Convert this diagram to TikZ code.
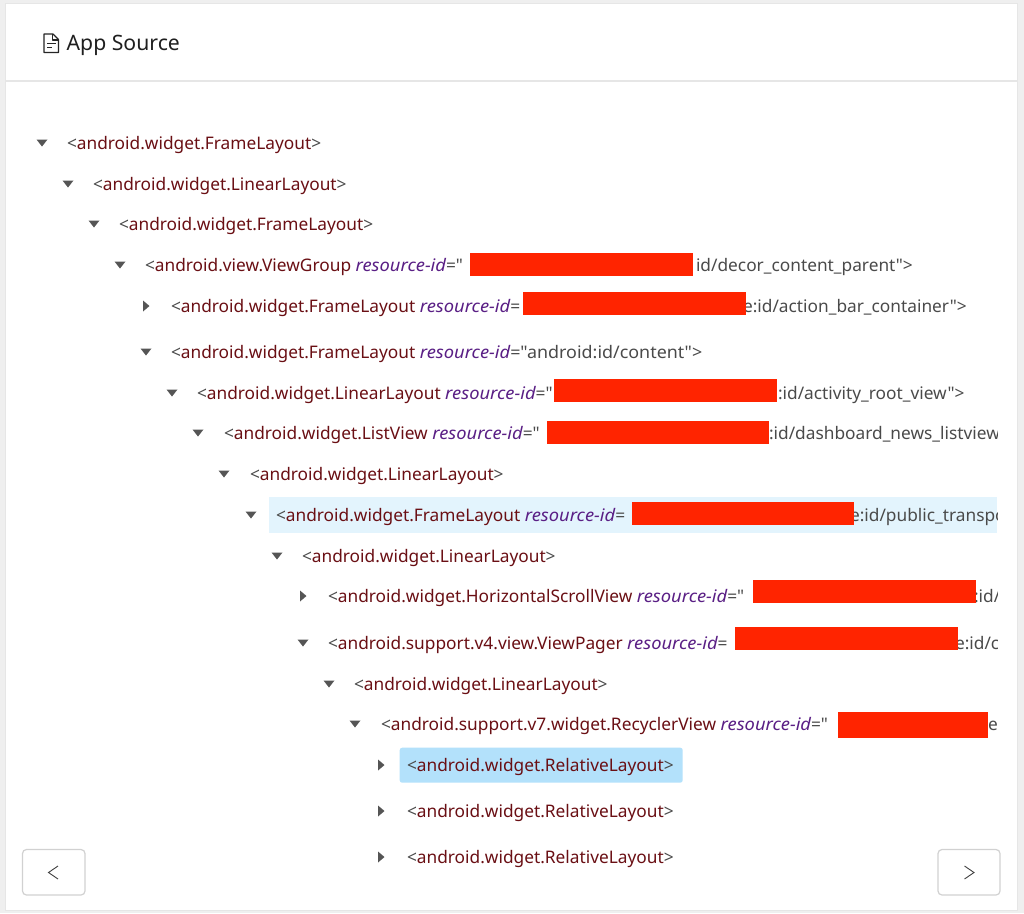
\documentclass[tikz,border=0pt]{standalone}
\usepackage{fontspec}
\setmainfont{Noto Sans}[Ligatures=TeXOff]
\newfontfamily\attrfont{Noto Sans}[Ligatures=TeXOff,FakeStretch=1.06]
\newfontfamily\valuefont{Noto Sans}[Ligatures=TeXOff,FakeStretch=1.035]
\definecolor{tagc}{HTML}{6A0F14}
\definecolor{attrc}{HTML}{5A1F85}
\definecolor{punc}{HTML}{4A4A4A}
\definecolor{pagebg}{HTML}{EFEFEF}
\definecolor{rulec}{HTML}{E6E6E6}
\definecolor{redact}{HTML}{FF2400}
\definecolor{hilite}{HTML}{E3F4FD}
\definecolor{selc}{HTML}{B3E1FB}
\definecolor{triac}{HTML}{555555}
\newcommand{\tagT}[1]{\textcolor{punc}{<}\textcolor{tagc}{#1}}
\newcommand{\attrA}{\textcolor{attrc}{\attrfont\itshape resource-id}}
\newcommand{\puncP}[1]{\textcolor{punc}{#1}}
\tikzset{
  x=1pt,y=-1pt,
  codeline/.style={anchor=base west,inner sep=0pt,outer sep=0pt,font=\fontsize{17.3}{20}\selectfont,text=punc},
  redbox/.style={fill=redact,draw=none},
  navbtn/.style={draw=black!18,line width=1.2pt,fill=white,rounded corners=4pt},
  chev/.style={draw=black!75,line width=0.9pt},
  tridown/.style={fill=triac,draw=none},
}
\newcommand{\trdown}[2]{\fill[tridown] (#1-5.5,#2-3.5) -- (#1+5.5,#2-3.5) -- (#1,#2+3.5) -- cycle;}
\newcommand{\trright}[2]{\fill[tridown] (#1-3,#2-5.5) -- (#1+3.5,#2) -- (#1-3,#2+5.5) -- cycle;}
\begin{document}
\begin{tikzpicture}
\useasboundingbox (0,0) rectangle (1024,913);
\fill[pagebg] (0,0) rectangle (1024,913);
\fill[white,draw=rulec,line width=0.8pt] (5.5,3) rectangle (1017,910);
\draw[rulec,line width=1.6pt] (6,81) -- (1017,81);
% header
\draw[black!85,line width=1.2pt,line join=round] (44,34) -- (53,34) -- (58.5,39.5) -- (58.5,52.5) -- (44,52.5) -- cycle;
\draw[black!85,line width=1.2pt,line join=round] (52.5,34) -- (52.5,40) -- (58.5,40);
\draw[black!85,line width=1.1pt] (47,43.5) -- (55.5,43.5) (47,47.5) -- (52,47.5);
\node[anchor=base west,inner sep=0pt,font=\fontsize{21.2}{24}\selectfont,text=black!88] (title) at (66.5,50) {App Source};
% highlights
\fill[hilite] (269,497) rectangle (997,533);
\node[fill=selc,rounded corners=2.5pt,minimum width=283pt,minimum height=35pt,inner sep=0pt,anchor=north west] (sel) at (399.5,747.5) {};
% triangles
\trdown{42}{143}\trdown{68}{184}\trdown{94}{224}\trdown{120}{265}
\trright{146}{306}\trdown{146}{352}\trdown{172}{393}\trdown{198}{433}
\trdown{224}{474}\trdown{251}{515}\trdown{277}{556}\trright{303}{596}
\trdown{303}{643}\trdown{329}{684}\trdown{355}{724}\trright{381}{765}\trright{381}{811}\trright{381}{857}
% code lines, clipped at the panel's right edge
\begin{scope}
\clip (0,90) rectangle (997,905);
\node[codeline] (l1) at (67,149) {\tagT{android.widget.FrameLayout}\puncP{>}};
\node[codeline] (l2) at (93,190) {\tagT{android.widget.LinearLayout}\puncP{>}};
\node[codeline] (l3) at (119,230) {\tagT{android.widget.FrameLayout}\puncP{>}};
\node[codeline] (l4) at (145,271) {\tagT{android.view.ViewGroup} \attrA\puncP{="}};
\node[codeline] (l4b) at (696,271) {id/decor\_content\_parent">};
\node[codeline] (l5) at (171,312) {\tagT{android.widget.FrameLayout} \attrA\puncP{=}};
\node[codeline] (l5b) at (743,312) {e:id/action\_bar\_container">};
\node[codeline] (l6) at (171,358) {\tagT{android.widget.FrameLayout} \attrA{\valuefont\puncP{="android:id/content">}}};
\node[codeline] (l7) at (197,399) {\tagT{android.widget.LinearLayout} \attrA\puncP{="}};
\node[codeline] (l7b) at (778,399) {:id/activity\_root\_view">};
\node[codeline] (l8) at (224,439) {\tagT{android.widget.ListView} \attrA\puncP{="}};
\node[codeline] (l8b) at (769,439) {:id/dashboard\_news\_listview};
\node[codeline] (l9) at (250,480) {\tagT{android.widget.LinearLayout}\puncP{>}};
\node[codeline] (l10) at (276,521) {\tagT{android.widget.FrameLayout} \attrA\puncP{=}};
\node[codeline] (l10b) at (850,521) {e:id/public\_transport};
\node[codeline] (l11) at (302,562) {\tagT{android.widget.LinearLayout}\puncP{>}};
\node[codeline] (l12) at (328,602) {\tagT{android.widget.HorizontalScrollView} \attrA\puncP{="}};
\node[codeline] (l12b) at (974,602) {:id/};
\node[codeline] (l13) at (328,649) {\tagT{android.support.v4.view.ViewPager} \attrA\puncP{=}};
\node[codeline] (l13b) at (955,649) {e:id/c};
\node[codeline] (l14) at (354,690) {\tagT{android.widget.LinearLayout}\puncP{>}};
\node[codeline] (l15) at (381,730) {\tagT{android.support.v7.widget.RecyclerView} \attrA\puncP{="}};
\node[codeline] (l15b) at (988,730) {e};
\node[codeline] (l16) at (407,771) {\tagT{android.widget.RelativeLayout}\puncP{>}};
\node[codeline] (l17) at (407,817) {\tagT{android.widget.RelativeLayout}\puncP{>}};
\node[codeline] (l18) at (407,863) {\tagT{android.widget.RelativeLayout}\puncP{>}};
\end{scope}
% redactions
\fill[redbox] (470,253) rectangle (693,276);
\fill[redbox] (523,292) rectangle (746,315);
\fill[redbox] (554,379) rectangle (777,402);
\fill[redbox] (547,421) rectangle (769,444);
\fill[redbox] (632,502) rectangle (854,525);
\fill[redbox] (753,580) rectangle (976,603);
\fill[redbox] (735,627) rectangle (958,650);
\fill[redbox] (838,712) rectangle (988,738);
% nav buttons
\draw[navbtn] (22.5,849.5) rectangle (85,895);
\draw[navbtn] (938,849.5) rectangle (1000,895);
\draw[chev] (58,866) -- (48.5,872.5) -- (58,879);
\draw[chev] (964.5,866) -- (974,872.5) -- (964.5,879);
\end{tikzpicture}
\end{document}
